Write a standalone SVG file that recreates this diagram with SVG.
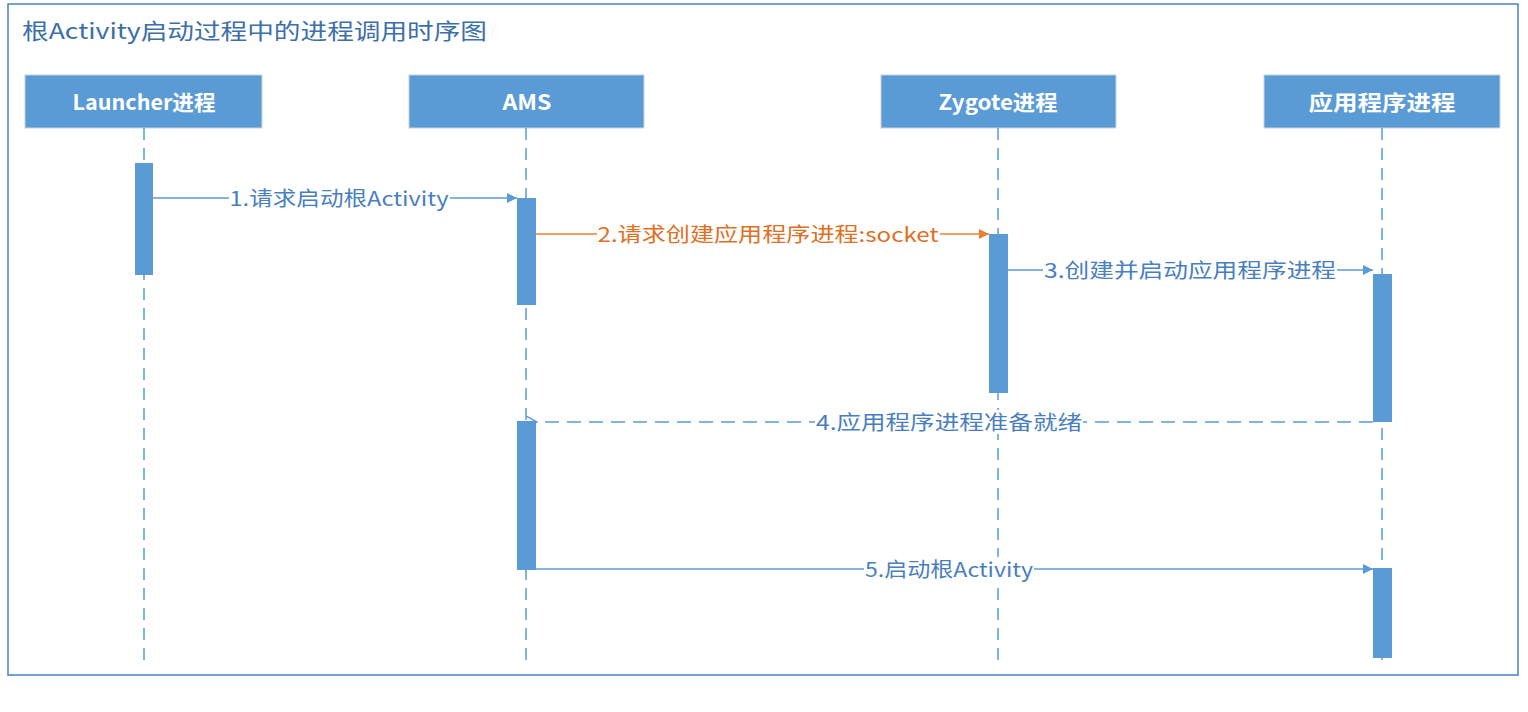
<svg xmlns="http://www.w3.org/2000/svg" width="1528" height="712" viewBox="0 0 1528 712">
<defs>
<style>
text{font-family:"Noto Sans CJK SC","Liberation Sans",sans-serif}
.hd{fill:#5b9bd5;stroke:#c8d3dc;stroke-width:1}
.ht{fill:#fff;font-size:21px;font-weight:bold;text-anchor:middle}
.life{stroke:#5b9bd5;stroke-width:1.5;stroke-dasharray:12,8;fill:none}
.act{fill:#5b9bd5}
.msg{stroke:#5b9bd5;stroke-width:1.5;fill:none}
.ml{fill:#4a7fbf;font-size:20px;text-anchor:middle}
</style>
<marker id="ab" viewBox="0 0 10 10" refX="10" refY="5" markerWidth="10" markerHeight="10" orient="auto" markerUnits="userSpaceOnUse"><path d="M0,0L10,5L0,10z" fill="#5b9bd5"/></marker>
<marker id="ao" viewBox="0 0 10 10" refX="10" refY="5" markerWidth="10" markerHeight="10" orient="auto" markerUnits="userSpaceOnUse"><path d="M0,0L10,5L0,10z" fill="#ed7d31"/></marker>
<marker id="aopen" viewBox="0 0 12 12" refX="1" refY="6" markerWidth="12" markerHeight="12" orient="auto" markerUnits="userSpaceOnUse"><path d="M12,0L1,6L12,12" fill="none" stroke="#5b9bd5" stroke-width="1.5"/></marker>
</defs>
<rect width="1528" height="712" fill="#fff"/>
<rect x="8" y="4" width="1510" height="671" fill="none" stroke="#4a7fbf" stroke-width="1.5"/>
<text x="22" y="39" font-size="22" fill="#3d6fa8" textLength="465" lengthAdjust="spacingAndGlyphs">根Activity启动过程中的进程调用时序图</text>
<g id="launcher"><rect class="hd" x="25" y="75" width="237" height="53"/><text class="ht" x="144" y="110" textLength="143" lengthAdjust="spacingAndGlyphs">Launcher进程</text><line class="life" x1="144" y1="128" x2="144" y2="668"/><rect class="act" x="135" y="163" width="18" height="112"/></g>
<g id="ams"><rect class="hd" x="409" y="75" width="235" height="53"/><text class="ht" x="527" y="110" textLength="49" lengthAdjust="spacingAndGlyphs">AMS</text><line class="life" x1="526" y1="128" x2="526" y2="668"/><rect class="act" x="517" y="198" width="19" height="107"/><rect class="act" x="517" y="421" width="19" height="149"/></g>
<g id="zygote"><rect class="hd" x="881" y="75" width="235" height="53"/><text class="ht" x="998" y="110" textLength="119" lengthAdjust="spacingAndGlyphs">Zygote进程</text><line class="life" x1="998" y1="128" x2="998" y2="668"/><rect class="act" x="989" y="234" width="19" height="159"/></g>
<g id="app"><rect class="hd" x="1264" y="75" width="236" height="53"/><text class="ht" x="1382" y="110" textLength="147" lengthAdjust="spacingAndGlyphs">应用程序进程</text><line class="life" x1="1382" y1="128" x2="1382" y2="668"/><rect class="act" x="1373" y="274" width="19" height="148"/><rect class="act" x="1373" y="568" width="19" height="90"/></g>
<g id="connectors">
<line class="msg" x1="153" y1="198" x2="517" y2="198" marker-end="url(#ab)"/>
<rect x="229" y="186" width="221" height="24" fill="#fff"/><text class="ml" x="339" y="206" textLength="219" lengthAdjust="spacingAndGlyphs">1.请求启动根Activity</text>
<line x1="536" y1="234" x2="989" y2="234" stroke="#ed7d31" stroke-width="1.5" marker-end="url(#ao)"/>
<rect x="597" y="222" width="343" height="24" fill="#fff"/><text class="ml" x="768" y="242" style="fill:#e0701f" textLength="341" lengthAdjust="spacingAndGlyphs">2.请求创建应用程序进程:socket</text>
<line class="msg" x1="1008" y1="270" x2="1373" y2="270" marker-end="url(#ab)"/>
<rect x="1043" y="258" width="294" height="24" fill="#fff"/><text class="ml" x="1190" y="278" textLength="292" lengthAdjust="spacingAndGlyphs">3.创建并启动应用程序进程</text>
<line class="msg" x1="1373" y1="422" x2="537" y2="422" stroke-dasharray="14,8" marker-end="url(#aopen)"/>
<rect x="815" y="410" width="268" height="24" fill="#fff"/><text class="ml" x="949" y="430" textLength="266" lengthAdjust="spacingAndGlyphs">4.应用程序进程准备就绪</text>
<line class="msg" x1="536" y1="569" x2="1373" y2="569" marker-end="url(#ab)"/>
<rect x="864" y="557" width="170" height="24" fill="#fff"/><text class="ml" x="949" y="577" textLength="168" lengthAdjust="spacingAndGlyphs">5.启动根Activity</text>
</g>
</svg>
